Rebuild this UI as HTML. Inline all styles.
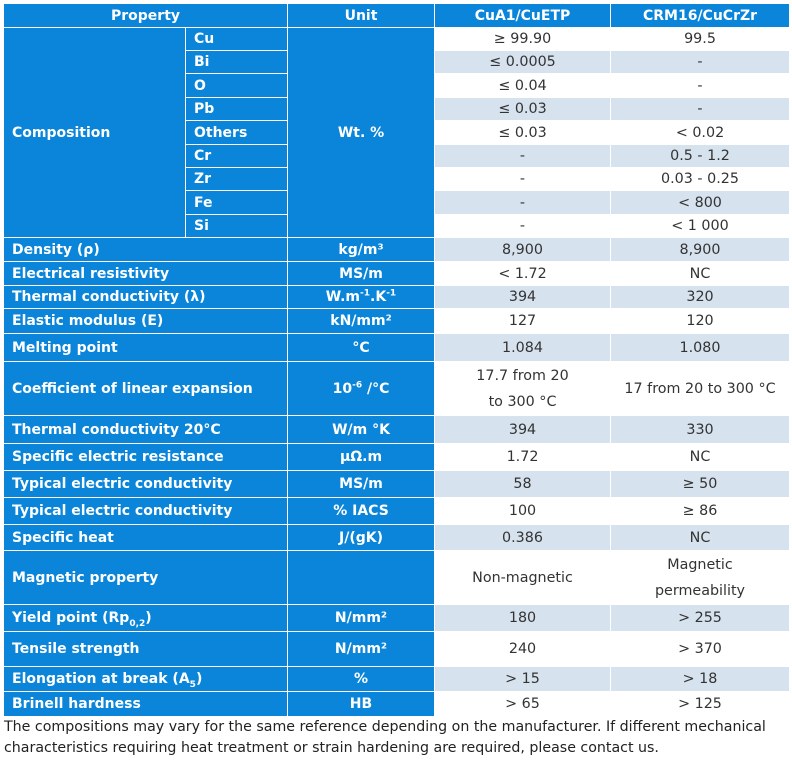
<!DOCTYPE html>
<html><head><meta charset="utf-8"><style>
body{margin:0;background:#fff;width:792px;height:765px;overflow:hidden;font-family:"DejaVu Sans",Verdana,sans-serif;}
table{position:absolute;left:3px;top:3px;border-collapse:collapse;table-layout:fixed;width:786px;font-size:14.3px;}
td{border:1px solid #fff;padding:0 0 0 8px;color:#333;text-align:center;line-height:16px;overflow:hidden;white-space:nowrap;}
td.b{background:#0a85d9;color:#fff;font-weight:bold;text-align:left;font-size:14px;}
td.c{background:#0a85d9;color:#fff;font-weight:bold;text-align:center;padding:0;font-size:14px;}
td.v{padding:0;}
td.t{line-height:26px;}
.l td.v{background:#d6e2ee;}
.h td{text-align:center;padding:0;}
p{position:absolute;left:4px;top:717px;margin:0;font-size:14.2px;line-height:21px;color:#222;width:790px;}
sub,sup{font-size:9px;line-height:0;}
</style></head><body>
<table>
<col style="width:182px"><col style="width:102px"><col style="width:147px"><col style="width:176px"><col style="width:179px">
<tr class="h" style="height:24px"><td class="c" colspan="2">Property</td><td class="c">Unit</td><td class="c">CuA1/CuETP</td><td class="c">CRM16/CuCrZr</td></tr>
<tr style="height:23px"><td class="b" rowspan="9">Composition</td><td class="b">Cu</td><td class="c" rowspan="9">Wt. %</td><td class="v">≥ 99.90</td><td class="v">99.5</td></tr>
<tr class="l" style="height:23px"><td class="b">Bi</td><td class="v">≤ 0.0005</td><td class="v">-</td></tr>
<tr style="height:24px"><td class="b">O</td><td class="v">≤ 0.04</td><td class="v">-</td></tr>
<tr class="l" style="height:23px"><td class="b">Pb</td><td class="v">≤ 0.03</td><td class="v">-</td></tr>
<tr style="height:24px"><td class="b">Others</td><td class="v">≤ 0.03</td><td class="v">&lt; 0.02</td></tr>
<tr class="l" style="height:23px"><td class="b">Cr</td><td class="v">-</td><td class="v">0.5 - 1.2</td></tr>
<tr style="height:23px"><td class="b">Zr</td><td class="v">-</td><td class="v">0.03 - 0.25</td></tr>
<tr class="l" style="height:24px"><td class="b">Fe</td><td class="v">-</td><td class="v">&lt; 800</td></tr>
<tr style="height:23px"><td class="b">Si</td><td class="v">-</td><td class="v">&lt; 1 000</td></tr>
<tr class="l" style="height:24px"><td class="b" colspan="2">Density (ρ)</td><td class="c">kg/m³</td><td class="v">8,900</td><td class="v">8,900</td></tr>
<tr style="height:24px"><td class="b" colspan="2">Electrical resistivity</td><td class="c">MS/m</td><td class="v">&lt; 1.72</td><td class="v">NC</td></tr>
<tr class="l" style="height:23px"><td class="b" colspan="2">Thermal conductivity (λ)</td><td class="c">W.m<sup>-1</sup>.K<sup>-1</sup></td><td class="v">394</td><td class="v">320</td></tr>
<tr style="height:25px"><td class="b" colspan="2">Elastic modulus (E)</td><td class="c">kN/mm²</td><td class="v">127</td><td class="v">120</td></tr>
<tr class="l" style="height:28px"><td class="b" colspan="2">Melting point</td><td class="c">°C</td><td class="v">1.084</td><td class="v">1.080</td></tr>
<tr style="height:54px"><td class="b" colspan="2">Coefficient of linear expansion</td><td class="c">10<sup>-6</sup> /°C</td><td class="v t">17.7 from 20<br>to 300 °C</td><td class="v">17 from 20 to 300 °C</td></tr>
<tr class="l" style="height:28px"><td class="b" colspan="2">Thermal conductivity 20°C</td><td class="c">W/m °K</td><td class="v">394</td><td class="v">330</td></tr>
<tr style="height:27px"><td class="b" colspan="2">Specific electric resistance</td><td class="c">µΩ.m</td><td class="v">1.72</td><td class="v">NC</td></tr>
<tr class="l" style="height:27px"><td class="b" colspan="2">Typical electric conductivity</td><td class="c">MS/m</td><td class="v">58</td><td class="v">≥ 50</td></tr>
<tr style="height:27px"><td class="b" colspan="2">Typical electric conductivity</td><td class="c">% IACS</td><td class="v">100</td><td class="v">≥ 86</td></tr>
<tr class="l" style="height:26px"><td class="b" colspan="2">Specific heat</td><td class="c">J/(gK)</td><td class="v">0.386</td><td class="v">NC</td></tr>
<tr style="height:54px"><td class="b" colspan="2">Magnetic property</td><td class="c"></td><td class="v">Non-magnetic</td><td class="v t">Magnetic<br>permeability</td></tr>
<tr class="l" style="height:27px"><td class="b" colspan="2">Yield point (Rp<sub>0,2</sub>)</td><td class="c">N/mm²</td><td class="v">180</td><td class="v">&gt; 255</td></tr>
<tr style="height:35px"><td class="b" colspan="2">Tensile strength</td><td class="c">N/mm²</td><td class="v">240</td><td class="v">&gt; 370</td></tr>
<tr class="l" style="height:25px"><td class="b" colspan="2">Elongation at break (A<sub>5</sub>)</td><td class="c">%</td><td class="v">&gt; 15</td><td class="v">&gt; 18</td></tr>
<tr style="height:25px"><td class="b" colspan="2">Brinell hardness</td><td class="c">HB</td><td class="v">&gt; 65</td><td class="v">&gt; 125</td></tr>
</table>
<p>The compositions may vary for the same reference depending on the manufacturer. If different mechanical characteristics requiring heat treatment or strain hardening are required, please contact us.</p>
</body></html>
